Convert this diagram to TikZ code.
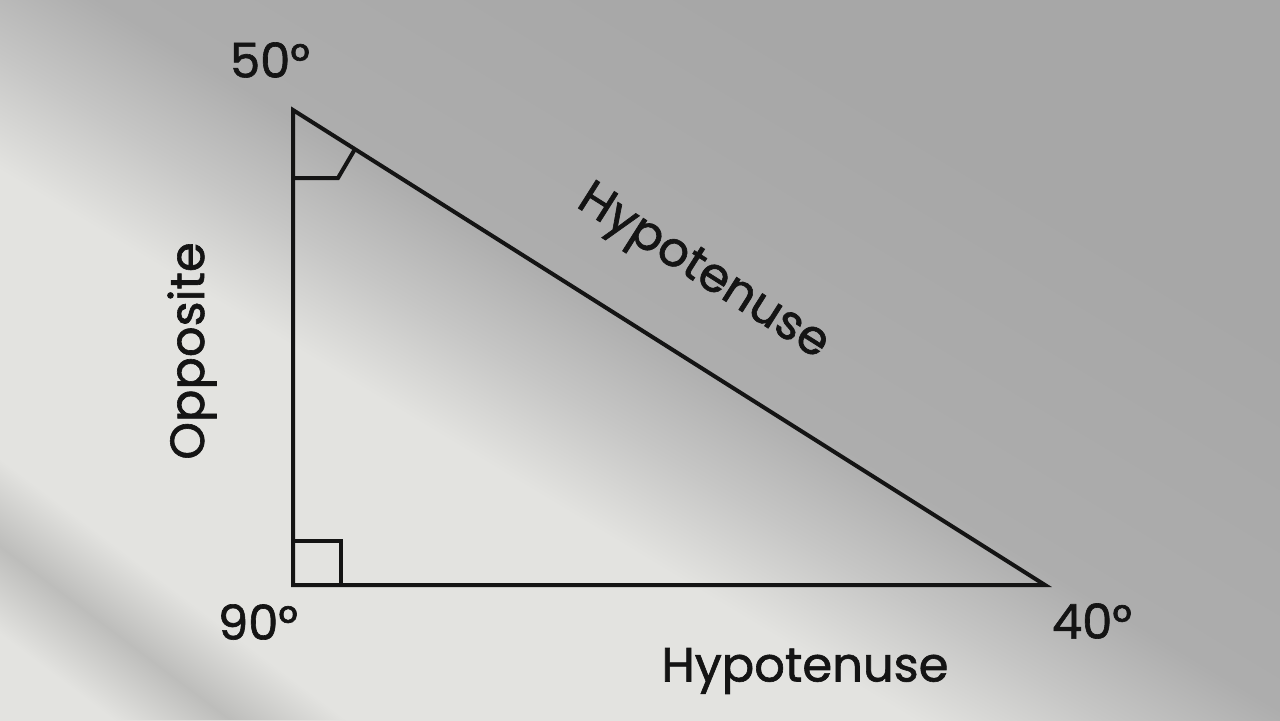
\documentclass[tikz,border=0pt]{standalone}
\usepackage{fontspec}
\setmainfont{Poppins}
\newfontfamily\lblfont{Poppins}[FakeBold=1.3]
\definecolor{bgL}{HTML}{E3E3E0}
\definecolor{bgM}{HTML}{C6C6C5}
\definecolor{bgD}{HTML}{ADADAD}
\definecolor{bgDD}{HTML}{A7A7A7}
\definecolor{bgS}{HTML}{BDBDBB}
\definecolor{ink}{HTML}{141414}
\pgfdeclarehorizontalshading{bgshade}{100bp}{
  color(0bp)=(bgL); color(46.5bp)=(bgL); color(50bp)=(bgM); color(53.5bp)=(bgD); color(65bp)=(bgDD); color(100bp)=(bgDD)}
\pgfdeclarehorizontalshading{stripe}{100bp}{
  color(0bp)=(bgL); color(47.5bp)=(bgL); color(50bp)=(bgS); color(52.5bp)=(bgL); color(100bp)=(bgL)}
\begin{document}
\begin{tikzpicture}[x=0.5pt,y=-0.5pt,
  edge/.style={draw=ink,line width=2pt,line join=miter},
  lbl/.style={text=ink,font=\fontsize{24}{28}\lblfont,inner sep=0pt}]
\useasboundingbox (0,0) rectangle (1280,720);
\begin{scope}
\clip (0,0) rectangle (1280,720);
\begin{scope}[shift={(636,438)},rotate=59,scale=14,transform shape]
\node[inner sep=0pt,outer sep=0pt] (bgnode) at (0,0) {\pgfuseshading{bgshade}};
\end{scope}
\begin{scope}
\clip (0,380) -- (520,720) -- (0,720) -- cycle;
\begin{scope}[shift={(115,633)},rotate=53,scale=14,transform shape]
\node[inner sep=0pt,outer sep=0pt] (stripenode) at (0,0) {\pgfuseshading{stripe}};
\end{scope}
\end{scope}
\end{scope}
\coordinate (A) at (293,110);
\coordinate (C) at (293,585);
\coordinate (B) at (1045,585);
\draw[edge] (A) -- (C) -- (B) -- cycle;
% right angle mark
\draw[edge] (293,541) -- (341,541) -- (341,585);
% top angle mark
\draw[edge] (293,178) -- (338,178) -- (355,149);
\node[lbl] (a50) at (270,60) {50°};
\node[lbl] (a90) at (258,622) {90°};
\node[lbl] (a40) at (1092,621) {40°};
\node[lbl,rotate=-32.3] (hyp1) at (702,274) {Hypotenuse};
\node[lbl] (hyp2) at (805,671) {Hypotenuse};
\node[lbl,rotate=90] (opp) at (192,351) {Opposite};
\end{tikzpicture}
\end{document}
